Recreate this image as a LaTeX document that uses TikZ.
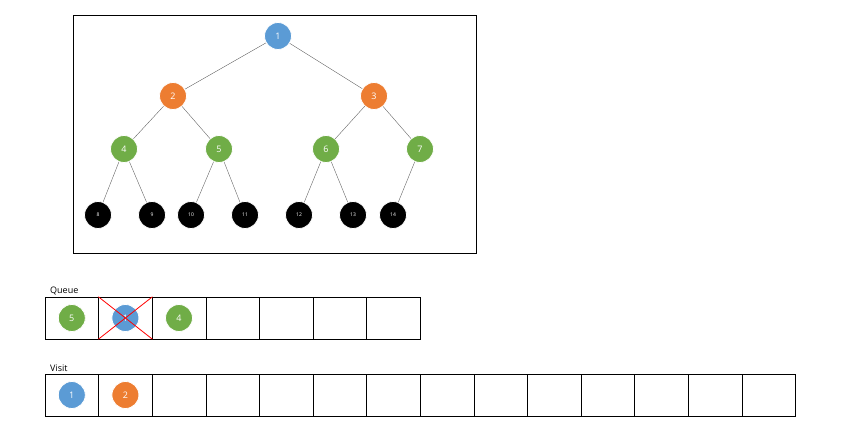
\documentclass[tikz,border=0pt]{standalone}
\usepackage{fontspec}
\setmainfont{Open Sans}
\definecolor{cblue}{HTML}{5B9BD5}
\definecolor{corange}{HTML}{ED7D31}
\definecolor{cgreen}{HTML}{70AD47}
\begin{document}
\begin{tikzpicture}[x=1pt,y=-1pt,
  vtx/.style={circle,draw=white,thick,minimum size=27pt,inner sep=0pt,text=white,font=\small},
  leaf/.style={vtx,fill=black,font=\tiny},
  cell/.style={draw,thin,minimum width=53.6pt,minimum height=42pt,inner sep=0pt}]
\useasboundingbox (0,0) rectangle (856,443);
% tree frame
\draw[thin] (73,15) rectangle (476,253);
\node[vtx,fill=cblue]   (n1) at (278,36) {1};
\node[vtx,fill=corange] (n2) at (173,96) {2};
\node[vtx,fill=corange] (n3) at (374,96) {3};
\node[vtx,fill=cgreen]  (n4) at (124,149) {4};
\node[vtx,fill=cgreen]  (n5) at (219,149) {5};
\node[vtx,fill=cgreen]  (n6) at (326,149) {6};
\node[vtx,fill=cgreen]  (n7) at (420,149) {7};
\node[leaf] (n8)  at (98,215)  {8};
\node[leaf] (n9)  at (152,215) {9};
\node[leaf] (n10) at (191,215) {10};
\node[leaf] (n11) at (245,215) {11};
\node[leaf] (n12) at (299,215) {12};
\node[leaf] (n13) at (353,215) {13};
\node[leaf] (n14) at (393,215) {14};
% edges
\foreach \a/\b in {n1/n2,n1/n3,n2/n4,n2/n5,n3/n6,n3/n7,n4/n8,n4/n9,n5/n10,n5/n11,n6/n12,n6/n13,n7/n14}
  \draw[gray!80!black,thin] (\a) -- (\b);
% queue
\node[anchor=south west,inner sep=0pt,font=\small] (qlabel) at (50,295) {Queue};
\foreach \i in {0,...,6}
  \node[cell] (q\i) at ({71.8+53.6*\i},318) {};
\node[vtx,fill=corange] (q3) at (q0) {3};
\node[vtx,fill=cblue]   (q1n) at (q1) {1};
\node[vtx,fill=cgreen]  (q4) at (q2) {4};
\node[vtx,fill=cgreen]  (q5) at (q3) {5};
\draw[red,thick] (q1.north west) -- (q1.south east);
\draw[red,thick] (q1.north east) -- (q1.south west);
% visit
\node[anchor=south west,inner sep=0pt,font=\small] (vlabel) at (50,372) {Visit};
\foreach \i in {0,...,13}
  \node[cell] (v\i) at ({71.8+53.6*\i},395) {};
\node[vtx,fill=cblue]   (v1n) at (v0) {1};
\node[vtx,fill=corange] (v2n) at (v1) {2};
\end{tikzpicture}
\end{document}
